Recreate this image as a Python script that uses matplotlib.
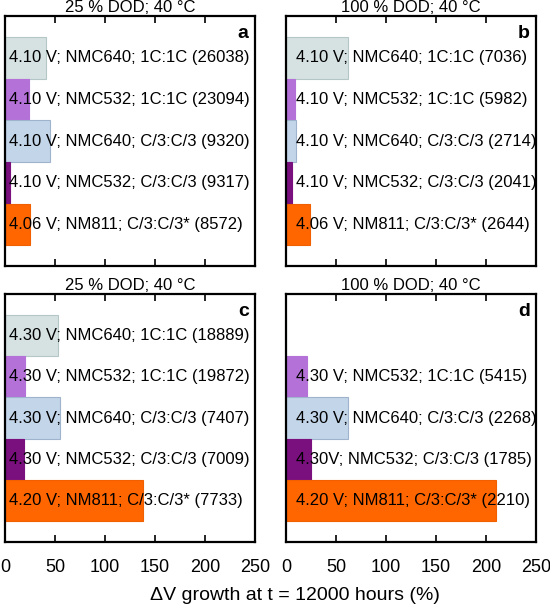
import matplotlib
matplotlib.use('Agg')
import matplotlib.pyplot as plt
import numpy as np

plt.rcParams['font.family'] = ['Liberation Sans', 'DejaVu Sans']

# shared series info (top to bottom)
colors = ['#d6e2e2', '#b472d8', '#c3d5e8', '#7a0f7e', '#ff6600']
edges = ['#b5c6c6', '#b472d8', '#9fb3cc', '#7a0f7e', '#f06000']

titles = ['25 % DOD; 40 °C', '100 % DOD; 40 °C', '25 % DOD; 40 °C', '100 % DOD; 40 °C']
letters = ['a', 'b', 'c', 'd']

labels_a = ['4.10 V; NMC640; 1C:1C (26038)', '4.10 V; NMC532; 1C:1C (23094)',
            '4.10 V; NMC640; C/3:C/3 (9320)', '4.10 V; NMC532; C/3:C/3 (9317)',
            '4.06 V; NM811; C/3:C/3* (8572)']
values_a = [41, 24, 45, 5, 25]

labels_b = ['4.10 V; NMC640; 1C:1C (7036)', '4.10 V; NMC532; 1C:1C (5982)',
            '4.10 V; NMC640; C/3:C/3 (2714)', '4.10 V; NMC532; C/3:C/3 (2041)',
            '4.06 V; NM811; C/3:C/3* (2644)']
values_b = [62, 9, 10, 6, 24]

labels_c = ['4.30 V; NMC640; 1C:1C (18889)', '4.30 V; NMC532; 1C:1C (19872)',
            '4.30 V; NMC640; C/3:C/3 (7407)', '4.30 V; NMC532; C/3:C/3 (7009)',
            '4.20 V; NM811; C/3:C/3* (7733)']
values_c = [53, 20, 55, 19, 138]

labels_d = ['', '4.30 V; NMC532; 1C:1C (5415)',
            '4.30 V; NMC640; C/3:C/3 (2268)', '4.30V; NMC532; C/3:C/3 (1785)',
            '4.20 V; NM811; C/3:C/3* (2210)']
values_d = [0, 21, 62, 25, 210]

panels = [(labels_a, values_a), (labels_b, values_b), (labels_c, values_c), (labels_d, values_d)]
text_x = [4, 10, 4, 10]

fig = plt.figure(figsize=(5.5, 6.06), dpi=100)
W, H = 550, 606
boxes = [(5, 16), (286, 16), (5, 294), (286, 294)]
heights = [250, 250, 248, 248]

for i, (labels, values) in enumerate(panels):
    x0, y0 = boxes[i]
    ax = fig.add_axes([x0 / W, 1 - (y0 + heights[i]) / H, 250 / W, heights[i] / H])
    pos = np.arange(len(values))
    ax.barh(pos, values, height=1.0, color=colors, edgecolor=edges, linewidth=0.8)
    for p, lab in zip(pos, labels):
        ax.text(text_x[i], p, lab, ha='left', va='center', fontsize=12, clip_on=False)
    ax.set_xlim(0, 250)
    ax.set_ylim(5, -1)
    ax.set_yticks([])
    ax.set_xticks([0, 50, 100, 150, 200, 250])
    ax.tick_params(axis='x', direction='in', top=True, bottom=True, length=5, width=1.2,
                   labelsize=13, pad=12)
    if i < 2:
        ax.tick_params(axis='x', labelbottom=False)
    for s in ax.spines.values():
        s.set_linewidth(1.6)
    ax.set_title(titles[i], fontsize=12, pad=3)
    ax.text(0.975, 0.93, letters[i], transform=ax.transAxes, ha='right', va='center',
            fontsize=14, fontweight='bold')

fig.text(295 / W, 1 - 595 / H, 'ΔV growth at t = 12000 hours (%)', ha='center', va='center',
         fontsize=14)

fig.savefig('out.png', dpi=100)
